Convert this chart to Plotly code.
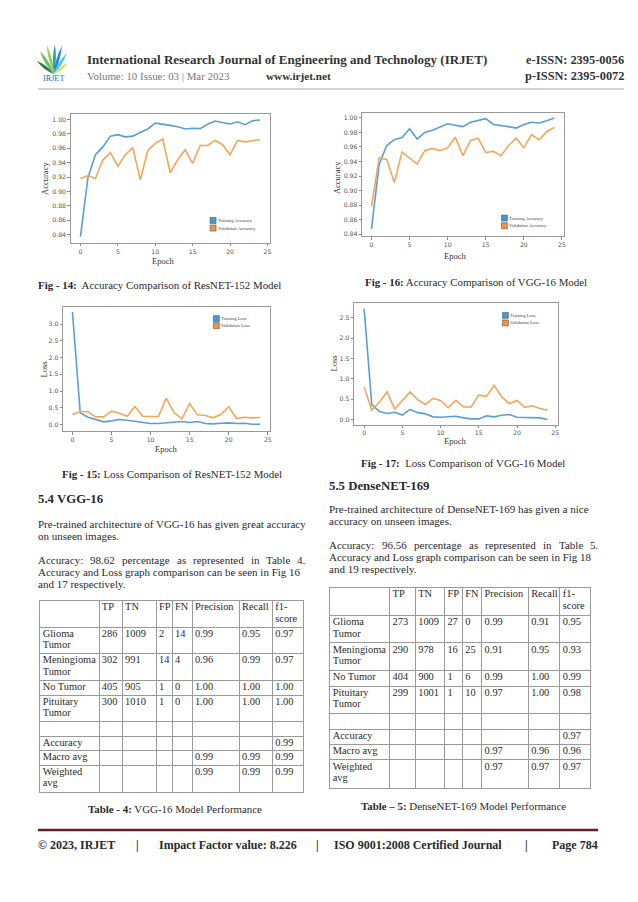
import math
import plotly.graph_objects as go

# page is rendered inside an 8px body margin: figure spans page px 8..638 / 8..902
OFF = 8
W, H = 638 - OFF, 902 - OFF
def PX(x): return (x - OFF) / W
def PY(y): return 1 - (y - OFF) / H

SERIF = "Liberation Serif"
SANS = "DejaVu Sans"
BLUE = "#5a9fd4"
ORANGE = "#f2a65a"
LEG_BLUE = "#3d9bdc"
LEG_ORANGE = "#f29141"

# ---------------- data ----------------
epochs = list(range(25))

resnet_train_acc = [0.837, 0.919, 0.951, 0.962, 0.977, 0.979, 0.976, 0.977, 0.982, 0.987, 0.995, 0.994, 0.992,
                    0.990, 0.987, 0.988, 0.9875, 0.9935, 0.998, 0.996, 0.994, 0.997, 0.993, 0.9985, 0.9995]
resnet_val_acc = [0.918, 0.922, 0.918, 0.944, 0.954, 0.935, 0.951, 0.961, 0.916, 0.957, 0.967, 0.973, 0.926,
                  0.944, 0.958, 0.939, 0.964, 0.964, 0.971, 0.965, 0.951, 0.971, 0.969, 0.970, 0.972]
resnet_train_loss = [3.36, 0.35, 0.22, 0.15, 0.08, 0.11, 0.15, 0.13, 0.10, 0.07, 0.03, 0.03, 0.05,
                     0.05, 0.09, 0.06, 0.09, 0.03, 0.02, 0.04, 0.05, 0.03, 0.04, 0.01, 0.01]
resnet_val_loss = [0.30, 0.38, 0.38, 0.23, 0.23, 0.40, 0.34, 0.25, 0.54, 0.25, 0.24, 0.24, 0.79,
                   0.35, 0.17, 0.63, 0.29, 0.27, 0.20, 0.30, 0.53, 0.18, 0.22, 0.20, 0.21]
vgg_train_acc = [0.847, 0.9355, 0.962, 0.970, 0.973, 0.985, 0.971, 0.980, 0.983, 0.987, 0.992, 0.990, 0.988,
                 0.994, 0.997, 0.999, 0.991, 0.990, 0.988, 0.986, 0.991, 0.994, 0.993, 0.996, 1.000]
vgg_val_acc = [0.878, 0.945, 0.943, 0.911, 0.953, 0.945, 0.9365, 0.955, 0.958, 0.955, 0.959, 0.9735, 0.948,
               0.969, 0.972, 0.9525, 0.954, 0.948, 0.962, 0.972, 0.959, 0.977, 0.970, 0.981, 0.987]
vgg_train_loss = [2.73, 0.37, 0.20, 0.15, 0.18, 0.11, 0.25, 0.17, 0.14, 0.066, 0.057, 0.074, 0.082,
                  0.041, 0.016, 0.016, 0.09, 0.066, 0.107, 0.123, 0.057, 0.05, 0.05, 0.041, 0.0]
vgg_val_loss = [0.80, 0.23, 0.43, 0.68, 0.26, 0.47, 0.68, 0.49, 0.37, 0.52, 0.47, 0.29, 0.47,
                0.31, 0.31, 0.60, 0.57, 0.84, 0.56, 0.39, 0.47, 0.30, 0.34, 0.27, 0.23]

epoch_ticks = [0, 5, 10, 15, 20, 25]
acc_ticks = [0.84, 0.86, 0.88, 0.90, 0.92, 0.94, 0.96, 0.98, 1.00]
resnet_loss_ticks = [0.0, 0.5, 1.0, 1.5, 2.0, 2.5, 3.0]
vgg_loss_ticks = [0.0, 0.5, 1.0, 1.5, 2.0, 2.5]

acc_legend = ["Training Accuracy", "Validation Accuracy"]
loss_legend = ["Training Loss", "Validation Loss"]

table_headers = ["", "TP", "TN", "FP", "FN", "Precision", "Recall", "f1-\nscore"]

t4_class = ["Glioma\nTumor", "Meningioma\nTumor", "No Tumor", "Pituitary\nTumor", "", "Accuracy", "Macro avg", "Weighted\navg"]
t4_tp = ["286", "302", "405", "300", "", "", "", ""]
t4_tn = ["1009", "991", "905", "1010", "", "", "", ""]
t4_fp = ["2", "14", "1", "1", "", "", "", ""]
t4_fn = ["14", "4", "0", "0", "", "", "", ""]
t4_precision = ["0.99", "0.96", "1.00", "1.00", "", "", "0.99", "0.99"]
t4_recall = ["0.95", "0.99", "1.00", "1.00", "", "", "0.99", "0.99"]
t4_f1 = ["0.97", "0.97", "1.00", "1.00", "", "0.99", "0.99", "0.99"]

t5_class = ["Glioma\nTumor", "Meningioma\nTumor", "No Tumor", "Pituitary\nTumor", "", "Accuracy", "Macro avg", "Weighted\navg"]
t5_tp = ["273", "290", "404", "299", "", "", "", ""]
t5_tn = ["1009", "978", "900", "1001", "", "", "", ""]
t5_fp = ["27", "16", "1", "1", "", "", "", ""]
t5_fn = ["0", "25", "6", "10", "", "", "", ""]
t5_precision = ["0.99", "0.91", "0.99", "0.97", "", "", "0.97", "0.97"]
t5_recall = ["0.91", "0.95", "1.00", "1.00", "", "", "0.96", "0.97"]
t5_f1 = ["0.95", "0.93", "0.99", "0.98", "", "0.97", "0.96", "0.97"]

# ---------------- figure ----------------
fig = go.Figure()
layout_axes = {}
annotations = []
shapes = []

def axn(i, l): return f"{l}axis" if i == 1 else f"{l}axis{i}"
def axr(i, l): return l if i == 1 else f"{l}{i}"

def txt(s, x, y, size, color="#2a2a2a", xanchor="left", family=SERIF, angle=0):
    annotations.append(dict(text=s, x=PX(x), y=PY(y), xref="paper", yref="paper", showarrow=False,
                            xanchor=xanchor, yanchor="middle", textangle=angle, borderpad=0, borderwidth=0,
                            font=dict(size=size, color=color, family=family)))

charts = [
    dict(n=1, box=(71, 114, 271, 243), xr=[-1.29, 25.36], yr=[0.8284, 1.008], yt=acc_ticks, fmt=".2f",
         series=(resnet_train_acc, resnet_val_acc), ylabel="Accuracy", ylab=(45.7, 178.5), xlab=(163.7, 261),
         legend=acc_legend, leg=(210.7, 220.7, 228.3)),
    dict(n=2, box=(363.3, 112.7, 566, 236.7), xr=[-1.22, 25.3], yr=[0.837, 1.0073], yt=acc_ticks, fmt=".2f",
         series=(vgg_train_acc, vgg_val_acc), ylabel="Accuracy", ylab=(338.3, 178), xlab=(456.7, 256),
         legend=acc_legend, leg=(503, 218.3, 226)),
    dict(n=3, box=(63.3, 307.7, 270.7, 431.7), xr=[-1.19, 25.26], yr=[-0.199, 3.497], yt=resnet_loss_ticks, fmt=".1f",
         series=(resnet_train_loss, resnet_val_loss), ylabel="Loss", ylab=(44, 370), xlab=(166.7, 449.3),
         legend=loss_legend, leg=(214, 319, 326)),
    dict(n=4, box=(355.3, 303.3, 559.3, 425), xr=[-1.3, 25.3], yr=[-0.123, 2.869], yt=vgg_loss_ticks, fmt=".1f",
         series=(vgg_train_loss, vgg_val_loss), ylabel="Loss", ylab=(335, 364), xlab=(456.7, 441.7),
         legend=loss_legend, leg=(504, 315.7, 323.3)),
]

tickfont = dict(family=SANS, size=6.2, color="#555")
for c in charts:
    i = c["n"]
    x0, y0, x1, y1 = c["box"]
    common = dict(ticks="outside", ticklen=2.5, tickwidth=0.8, tickcolor="#888", showline=True, mirror=True,
                  linecolor="#999", linewidth=1, showgrid=False, zeroline=False, tickfont=tickfont, fixedrange=True)
    layout_axes[axn(i, "x")] = dict(domain=[PX(x0), PX(x1)], range=c["xr"], anchor=axr(i, "y"),
                                    tickvals=epoch_ticks, **common)
    layout_axes[axn(i, "y")] = dict(domain=[PY(y1), PY(y0)], range=c["yr"], anchor=axr(i, "x"),
                                    tickvals=c["yt"], tickformat=c["fmt"], **common)
    for ser, col, name in zip(c["series"], (BLUE, ORANGE), c["legend"]):
        fig.add_trace(go.Scatter(x=epochs, y=ser, mode="lines", name=name, line=dict(color=col, width=1.6),
                                 xaxis=axr(i, "x"), yaxis=axr(i, "y"), hoverinfo="skip", showlegend=False))
    txt(c["ylabel"], c["ylab"][0], c["ylab"][1], 8.5, color="#333", xanchor="center", angle=-90)
    txt("Epoch", c["xlab"][0], c["xlab"][1], 8.5, color="#333", xanchor="center")
    lx, r1, r2 = c["leg"]
    for name, col, ry in zip(c["legend"], (LEG_BLUE, LEG_ORANGE), (r1, r2)):
        shapes.append(dict(type="rect", xref="paper", yref="paper", x0=PX(lx), x1=PX(lx + 6),
                           y0=PY(ry + 3), y1=PY(ry - 3), fillcolor=col, line=dict(color="#555", width=0.6)))
        txt(name, lx + 8, ry, 4.6, color="#444")

# ---------------- tables ----------------
TABLE_FONT = 10.4
def draw_table(i, cols, widths, top, left, base, lh, first_off, text_lh):
    nrows = len(cols[0])
    lines = [max(len(str(col[r]).split("\n")) for col in cols) for r in range(nrows)]
    heights = [base + lh * n for n in lines]
    ybounds = [0]
    for h in heights:
        ybounds.append(ybounds[-1] + h)
    xbounds = [0]
    for w in widths:
        xbounds.append(xbounds[-1] + w)
    tw_, th = xbounds[-1], ybounds[-1]
    grid = dict(showgrid=True, gridcolor="#9a9a9a", gridwidth=1, showticklabels=False, ticks="", zeroline=False,
                showline=True, mirror=True, linecolor="#9a9a9a", linewidth=1, fixedrange=True)
    layout_axes[axn(i, "x")] = dict(domain=[PX(left), PX(left + tw_)], range=[0, tw_], anchor=axr(i, "y"),
                                    tickvals=xbounds, **grid)
    layout_axes[axn(i, "y")] = dict(domain=[PY(top + th), PY(top)], range=[th, 0], anchor=axr(i, "x"),
                                    tickvals=ybounds, **grid)
    for ci, col in enumerate(cols):
        xs, ys, ts = [], [], []
        for r, val in enumerate(col):
            for k, part in enumerate(str(val).split("\n")):
                if part == "":
                    continue
                xs.append(xbounds[ci] + 2.8)
                ys.append(ybounds[r] + first_off + k * text_lh)
                ts.append(part)
        fig.add_trace(go.Scatter(x=xs, y=ys, text=ts, mode="text", textposition="middle right",
                                 textfont=dict(family=SERIF, size=TABLE_FONT, color="#2a2a2a"),
                                 xaxis=axr(i, "x"), yaxis=axr(i, "y"), hoverinfo="skip", showlegend=False))

t4_cols = [[h] + list(v) for h, v in zip(table_headers, [t4_class, t4_tp, t4_tn, t4_fp, t4_fn, t4_precision, t4_recall, t4_f1])]
t5_cols = [[h] + list(v) for h, v in zip(table_headers, [t5_class, t5_tp, t5_tn, t5_fp, t5_fn, t5_precision, t5_recall, t5_f1])]
draw_table(5, t4_cols, [59.3, 23.4, 34, 16, 20, 47.3, 33.3, 31], 601.7, 40, 2.9, 11.8, 6.8, 11.2)
draw_table(6, t5_cols, [60, 25.7, 29.3, 18, 19.3, 46.7, 31.7, 30], 588.3, 331, 3.1, 12.3, 7.2, 11.4)

# ---------------- page text ----------------
# header
txt("<b>International Research Journal of Engineering and Technology (IRJET)</b>", 87, 60, 13.0, color="#333")
txt("<b>e-ISSN: 2395-0056</b>", 626, 60, 12.4, color="#333", xanchor="right")
txt("Volume: 10 Issue: 03 | Mar 2023", 87, 76, 10.9, color="#777")
txt("<b>www.irjet.net</b>", 267, 76, 11.2, color="#333")
txt("<b>p-ISSN: 2395-0072</b>", 626, 76, 12.4, color="#333", xanchor="right")
shapes.append(dict(type="line", xref="paper", yref="paper", x0=PX(38), x1=PX(626), y0=PY(89), y1=PY(89),
                   line=dict(color="#c4c4c4", width=1.5)))

# logo leaves
base = (54, 74)
leaves = [((37, 61), "#2e7d32", 3.2), ((40, 51), "#66bb6a", 3.2), ((47, 45), "#9ccc65", 3.0),
          ((55, 44), "#26a69a", 3.0), ((62, 46), "#1e88e5", 3.0), ((67, 53), "#4fc3f7", 3.0), ((68, 63), "#d4e157", 2.8)]
for (tx, ty), col, wdt in leaves:
    bx, by = base
    mx, my = (bx + tx) / 2, (by + ty) / 2
    dx, dy = tx - bx, ty - by
    L = math.hypot(dx, dy)
    nx, ny = -dy / L * wdt, dx / L * wdt
    p = (f"M {PX(bx)},{PY(by)} Q {PX(mx + nx)},{PY(my + ny)} {PX(tx)},{PY(ty)} "
         f"Q {PX(mx - nx)},{PY(my - ny)} {PX(bx)},{PY(by)} Z")
    shapes.append(dict(type="path", xref="paper", yref="paper", path=p, fillcolor=col, line=dict(width=0)))
txt("IRJET", 53.5, 79, 8.2, color="#2b6cb0", xanchor="center")

# captions
CAP = 10.9
txt("<b>Fig - 14:</b>  Accuracy Comparison of ResNET-152 Model", 38, 285, CAP)
txt("<b>Fig - 15:</b> Loss Comparison of ResNET-152 Model", 173, 475, CAP, xanchor="center")
txt("<b>Fig - 16:</b> Accuracy Comparison of VGG-16 Model", 477, 282, CAP, xanchor="center")
txt("<b>Fig - 17:</b>  Loss Comparison of VGG-16 Model", 464, 464, CAP, xanchor="center")
txt("<b>Table - 4:</b> VGG-16 Model Performance", 176, 810, CAP, xanchor="center")
txt("<b>Table – 5:</b> DenseNET-169 Model Performance", 465, 807, CAP, xanchor="center")

# headings
txt("<b>5.4 VGG-16</b>", 38, 500, 12.8)
txt("<b>5.5 DenseNET-169</b>", 330, 487, 12.8)

# paragraphs (justified lines placed word by word)
TW = {' ': 250, 'a': 444, 'b': 500, 'c': 444, 'd': 500, 'e': 444, 'f': 333, 'g': 500, 'h': 500, 'i': 278, 'j': 278,
      'k': 500, 'l': 278, 'm': 778, 'n': 500, 'o': 500, 'p': 500, 'q': 500, 'r': 333, 's': 389, 't': 278, 'u': 500,
      'v': 500, 'w': 722, 'x': 500, 'y': 500, 'z': 444, 'A': 722, 'B': 667, 'C': 667, 'D': 722, 'E': 611, 'F': 556,
      'G': 722, 'H': 722, 'I': 333, 'J': 389, 'K': 722, 'L': 611, 'M': 889, 'N': 722, 'O': 722, 'P': 556, 'Q': 722,
      'R': 667, 'S': 556, 'T': 611, 'U': 722, 'V': 722, 'W': 944, 'X': 722, 'Y': 722, 'Z': 611, '.': 250, ',': 250,
      ':': 278, '-': 333}

def tw(s, size):
    return sum(TW.get(ch, 500) for ch in s) / 1000 * size * 1.02

def para_line(s, x0, x1, y, size, justify):
    words = s.split(" ")
    if justify:
        total = sum(tw(w, size) for w in words)
        gap = (x1 - x0 - total) / (len(words) - 1)
        if gap < 0.36 * size:
            justify = False
    if not justify:
        txt(s, x0, y, size)
        return
    x = x0
    for k, w in enumerate(words):
        if k == len(words) - 1:
            txt(w, x1, y, size, xanchor="right")
        else:
            txt(w, x, y, size)
        x += tw(w, size) + gap

P = 11.0
col1 = [("Pre-trained architecture of VGG-16 has given great accuracy", 525, True),
        ("on unseen images.", 537, False),
        ("Accuracy: 98.62 percentage as represented in Table 4.", 561, True),
        ("Accuracy and Loss graph comparison can be seen in Fig 16", 573, True),
        ("and 17 respectively.", 585, False)]
col2 = [("Pre-trained architecture of DenseNET-169 has given a nice", 510, True),
        ("accuracy on unseen images.", 522, False),
        ("Accuracy: 96.56 percentage as represented in Table 5.", 546, True),
        ("Accuracy and Loss graph comparison can be seen in Fig 18", 558, True),
        ("and 19 respectively.", 570, False)]
for s, y, j in col1:
    para_line(s, 38, 307, y, P, j)
for s, y, j in col2:
    para_line(s, 330, 601, y, P, j)

# footer
FT = 12
shapes.append(dict(type="line", xref="paper", yref="paper", x0=PX(38), x1=PX(600), y0=PY(831), y1=PY(831),
                   line=dict(color="#6d1a24", width=2.5)))
txt("<b>© 2023, IRJET</b>", 38, 846, FT)
txt("<b>|</b>", 136, 846, FT)
txt("<b>Impact Factor value: 8.226</b>", 159, 846, FT)
txt("<b>|</b>", 317, 846, FT)
txt("<b>ISO 9001:2008 Certified Journal</b>", 335, 846, FT)
txt("<b>|</b>", 527, 846, FT)
txt("<b>Page 784</b>", 600, 846, FT, xanchor="right")

fig.update_layout(width=W, height=H, margin=dict(l=0, r=0, t=0, b=0), paper_bgcolor="white",
                  plot_bgcolor="white", showlegend=False, annotations=annotations, shapes=shapes, **layout_axes)
fig.write_html("out.html")
